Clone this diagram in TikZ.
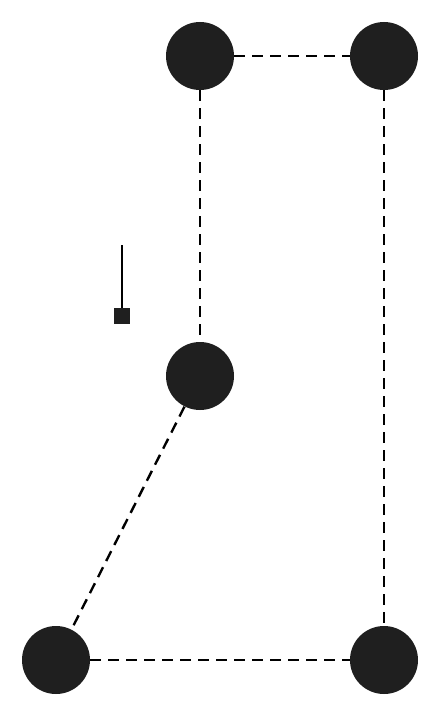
\documentclass[tikz,border=0pt]{standalone}
\usepackage{tikz}
\usetikzlibrary{calc}
\tikzset{
	ball/.style={circle, fill=black!88, inner sep=0pt, minimum size=34pt},
	link/.style={line width=1.2pt, dash pattern=on 5.5pt off 3.5pt},
	weight/.style={rectangle, fill=black!88, inner sep=0pt, minimum size=7.6pt},
}

\begin{document}
\begin{tikzpicture}[x=0.5pt, y=-0.5pt]
	% frame: 440 x 717 px
	\useasboundingbox (0, 0) rectangle (440, 717);

	% balls
	\node[ball] (tl) at (200, 56) {};
	\node[ball] (tr) at (384, 56) {};
	\node[ball] (mid) at (200, 376) {};
	\node[ball] (bl) at (56, 660) {};
	\node[ball] (br) at (384, 660) {};

	% dashed links
	\draw[link] (tl) -- (tr);
	\draw[link] (tl) -- (mid);
	\draw[link] (mid) -- (bl);
	\draw[link] (bl) -- (br);
	\draw[link] (tr) -- (br);

	% hanging weight
	\coordinate (hook) at (122, 245);
	\node[weight] (wt) at (122, 316) {};
	\draw[line width=1pt] (hook) -- (wt.north);
\end{tikzpicture}
\end{document}
